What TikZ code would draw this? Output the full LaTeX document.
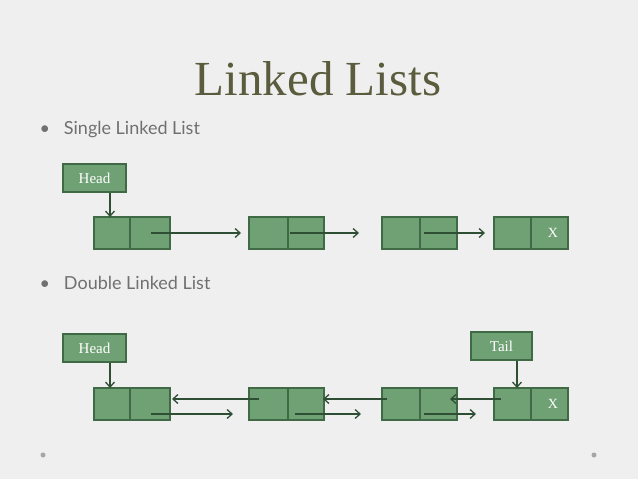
\documentclass[tikz,border=0pt]{standalone}
\usepackage{fontspec}
\setmainfont{Liberation Serif}
\newfontfamily\bulletfont{Lato}
\usetikzlibrary{arrows.meta}
\definecolor{bg}{HTML}{EFEFEF}
\definecolor{boxfill}{HTML}{6FA174}
\definecolor{boxline}{HTML}{3F6A45}
\definecolor{arr}{HTML}{2F4F34}
\definecolor{titlec}{HTML}{5B5B3D}
\definecolor{bulc}{HTML}{707070}
\tikzset{
  cell/.style={draw=boxline,fill=boxfill,line width=1.2pt},
  lab/.style={cell,minimum width=63pt,minimum height=28pt,inner sep=0pt,text=white,font=\fontsize{15}{17}\selectfont},
  link/.style={draw=arr,line width=1.3pt,-{Straight Barb[length=5pt,width=9pt]}},
  bul/.style={anchor=west,text=bulc,font=\bulletfont\fontsize{18}{21}\selectfont},
}
\begin{document}
\begin{tikzpicture}[x=1pt,y=-1pt]
\fill[bg] (0,0) rectangle (638,479);
\useasboundingbox (0,0) rectangle (638,479);
\fill[gray!70] (43,455) circle (2.5);
\fill[gray!70] (594,455) circle (2.5);
\node[text=titlec,font=\fontsize{49}{55}\selectfont] (title) at (318,79) {Linked Lists};
\node[bul] (b1) at (36,130) {•\hspace{14pt}Single Linked List};
\node[bul] (b2) at (36,283) {•\hspace{14pt}Double Linked List};
\foreach \n/\xa/\xm/\xb in {1/94/130/170,2/249/288/324,3/382/420/457,4/494/531/568}{
  \draw[cell] (\xa,217) rectangle (\xm,249);
  \draw[cell] (\xm,217) rectangle (\xb,249);
  \draw[cell] (\xa,388) rectangle (\xm,420);
  \draw[cell] (\xm,388) rectangle (\xb,420);
}
\node[text=white,font=\fontsize{14}{16}\selectfont] (x1) at (553,233) {X};
\node[text=white,font=\fontsize{14}{16}\selectfont] (x2) at (553,404) {X};
\node[lab] (head1) at (94.5,178) {Head};
\coordinate (h1t) at (110,217);
\draw[link] (head1.south -| h1t) -- (h1t);
\coordinate (p1) at (151,233); \coordinate (q1) at (241,233);
\coordinate (p2) at (290,233); \coordinate (q2) at (359,233);
\coordinate (p3) at (424,233); \coordinate (q3) at (485,233);
\draw[link] (p1) -- (q1);
\draw[link] (p2) -- (q2);
\draw[link] (p3) -- (q3);
\node[lab] (head2) at (94.5,348) {Head};
\node[lab,minimum width=61pt] (tail) at (501.5,346) {Tail};
\coordinate (h2t) at (110,388);
\coordinate (tt) at (517,388);
\draw[link] (head2.south -| h2t) -- (h2t);
\draw[link] (tail.south -| tt) -- (tt);
\coordinate (f1) at (151,414); \coordinate (g1) at (233,414);
\coordinate (f2) at (295,414); \coordinate (g2) at (361,414);
\coordinate (f3) at (424,414); \coordinate (g3) at (476,414);
\draw[link] (f1) -- (g1);
\draw[link] (f2) -- (g2);
\draw[link] (f3) -- (g3);
\coordinate (r1) at (259,399); \coordinate (t1) at (172,399);
\coordinate (r2) at (387,399); \coordinate (t2) at (323,399);
\coordinate (r3) at (501,399); \coordinate (t3) at (450,399);
\draw[link] (r1) -- (t1);
\draw[link] (r2) -- (t2);
\draw[link] (r3) -- (t3);
\end{tikzpicture}
\end{document}
